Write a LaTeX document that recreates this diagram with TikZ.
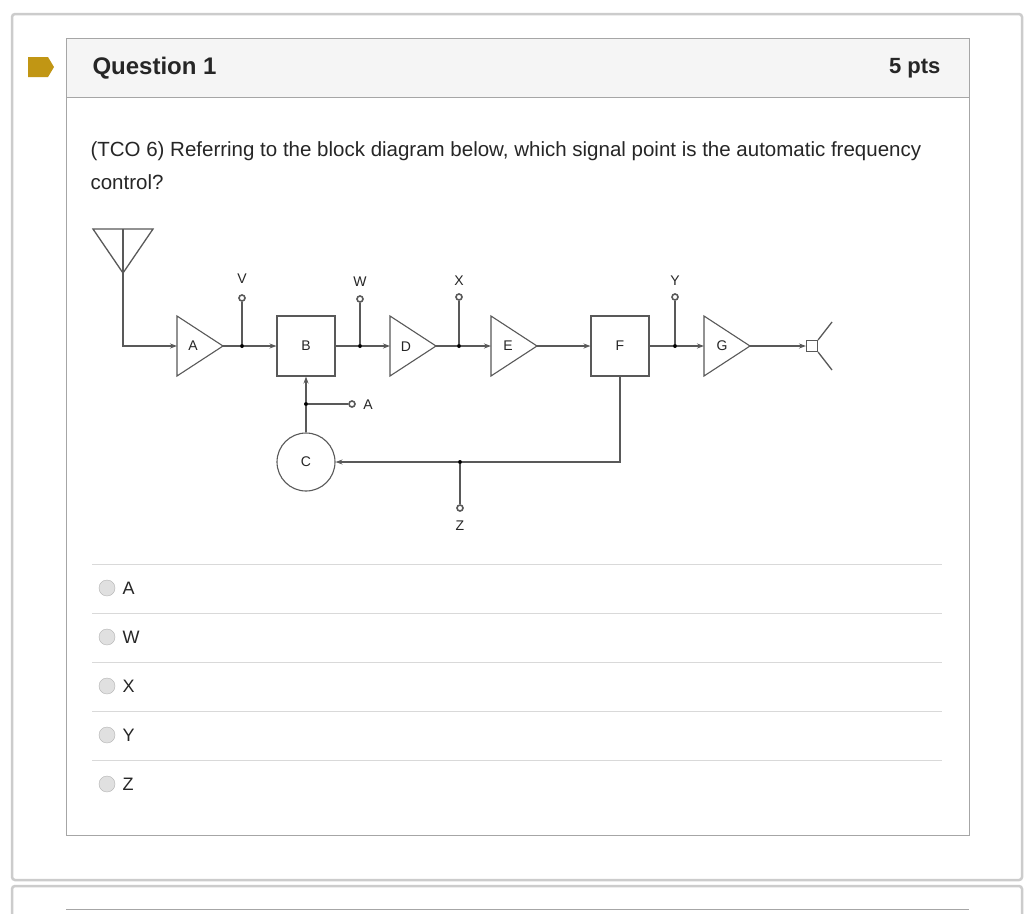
\documentclass[tikz,border=0pt]{standalone}
\usepackage{fontspec}
\setmainfont{Liberation Sans}
\usetikzlibrary{arrows.meta}
\begin{document}
\begin{tikzpicture}[x=1pt,y=-1pt,
 wire/.style={draw=black!65,line width=1.3pt},
 arr/.style={wire,-{Stealth[length=7pt,width=5pt]}},
 amp/.style={draw=black!65,line width=1.1pt,fill=white},
 lbl/.style={font=\fontsize{14}{14}\selectfont,text=black!85},
 tp/.style={circle,draw=black!65,line width=1.6pt,inner sep=0pt,minimum size=6pt},
 jd/.style={circle,fill=black,inner sep=0pt,minimum size=4pt},
 radio/.style={circle,draw=black!30,fill=black!12,inner sep=0pt,minimum size=16pt},
 opt/.style={anchor=west,font=\fontsize{18}{18}\selectfont,text=black!85},
 sep/.style={draw=black!15,line width=0.8pt}]
\useasboundingbox (0,0) rectangle (1024,913);
\fill[white] (0,0) rectangle (1024,913);
% cards
\draw[black!20,line width=2.5pt,rounded corners=3pt] (12,14) rectangle (1022,880);
\draw[black!20,line width=2.5pt,rounded corners=3pt] (12,930) -- (12,886) -- (1022,886) -- (1022,930);
\draw[black!35,line width=1pt] (66,909) -- (969,909);
% inner box
\fill[black!4] (66,38) rectangle (969,97);
\draw[black!35,line width=1pt] (66,97) -- (969,97);
\draw[black!35,line width=1pt] (66,38) rectangle (969,835);
\fill[fill={rgb,255:red,193;green,150;blue,20}] (28,57) -- (48,57) -- (54,67) -- (48,77) -- (28,77) -- cycle;
\node[anchor=west,font=\bfseries\fontsize{24}{24}\selectfont,text=black!85] (q) at (89,68) {Question 1};
\node[anchor=east,font=\bfseries\fontsize{22}{22}\selectfont,text=black!85] (pts) at (944,68) {5 pts};
\node[anchor=west,font=\fontsize{20.5}{20.5}\selectfont,text=black!85] (t1) at (87,151) {(TCO 6) Referring to the block diagram below, which signal point is the automatic frequency};
\node[anchor=west,font=\fontsize{20.5}{20.5}\selectfont,text=black!85] (t2) at (87,182) {control?};
% antenna
\draw[wire] (93,229) -- (153,229) -- (123,273) -- cycle;
\coordinate (ant) at (123,229);
\coordinate (antc) at (123,346);
% amplifiers
\draw[amp] (177,316) -- (223,346) -- (177,376) -- cycle; \node[lbl] (A) at (193,346) {A};
\draw[amp] (390,316) -- (436,346) -- (390,376) -- cycle; \node[lbl] (D) at (406,347) {D};
\draw[amp] (491,316) -- (537,346) -- (491,376) -- cycle; \node[lbl] (E) at (508,346) {E};
\draw[amp] (704,316) -- (750,346) -- (704,376) -- cycle; \node[lbl] (G) at (722,346) {G};
\coordinate (Ain) at (177,346); \coordinate (Aout) at (223,346);
\coordinate (Din) at (390,346); \coordinate (Dout) at (436,346);
\coordinate (Ein) at (491,346); \coordinate (Eout) at (537,346);
\coordinate (Gin) at (704,346); \coordinate (Gout) at (750,346);
\node[draw=black!65,line width=1.1pt,minimum width=58pt,minimum height=60pt,lbl] (B) at (306,346) {B};
\node[draw=black!65,line width=1.1pt,minimum width=58pt,minimum height=60pt,lbl] (F) at (620,346) {F};
\node[circle,draw=black!65,line width=1.1pt,minimum size=58pt,lbl] (C) at (306,462) {C};
% junctions and test points
\node[jd] (jV) at (242,346) {}; \node[tp] (pV) at (242,298) {}; \node[lbl] (lV) at (242,279) {V};
\node[jd] (jW) at (360,346) {}; \node[tp] (pW) at (360,299) {}; \node[lbl] (lW) at (360,282) {W};
\node[jd] (jX) at (459,346) {}; \node[tp] (pX) at (459,297) {}; \node[lbl] (lX) at (459,281) {X};
\node[jd] (jY) at (675,346) {}; \node[tp] (pY) at (675,297) {}; \node[lbl] (lY) at (675,281) {Y};
\node[jd] (jA) at (306,404) {}; \node[tp] (pA) at (352,404) {}; \node[lbl] (lA) at (368,405) {A};
\node[jd] (jZ) at (460,462) {}; \node[tp] (pZ) at (460,508) {}; \node[lbl] (lZ) at (460,526) {Z};
\node[draw=black!65,line width=1.1pt,minimum size=11pt,inner sep=0pt] (spk) at (812,346) {};
\draw[wire] (spk.north east) -- (832,322);
\draw[wire] (spk.south east) -- (832,370);
% wires
\draw[arr] (ant) -- (antc) -- (Ain);
\draw[wire] (Aout) -- (jV); \draw[arr] (jV) -- (B.west); \draw[wire] (jV) -- (pV);
\draw[wire] (B.east) -- (jW); \draw[arr] (jW) -- (Din); \draw[wire] (jW) -- (pW);
\draw[wire] (Dout) -- (jX); \draw[arr] (jX) -- (Ein); \draw[wire] (jX) -- (pX);
\draw[arr] (Eout) -- (F.west);
\draw[wire] (F.east) -- (jY); \draw[arr] (jY) -- (Gin); \draw[wire] (jY) -- (pY);
\draw[arr] (Gout) -- (spk.west);
\draw[wire] (C.north) -- (jA); \draw[arr] (jA) -- (B.south); \draw[wire] (jA) -- (pA);
\draw[wire] (F.south) |- (jZ); \draw[arr] (jZ) -- (C.east); \draw[wire] (jZ) -- (pZ);
% options
\foreach \y in {564,613,662,711,760} \draw[sep] (92,\y) -- (942,\y);
\node[radio] (r1) at (107,588) {}; \node[opt] (o1) at (119,588) {A};
\node[radio] (r2) at (107,637) {}; \node[opt] (o2) at (119,637) {W};
\node[radio] (r3) at (107,686) {}; \node[opt] (o3) at (119,686) {X};
\node[radio] (r4) at (107,735) {}; \node[opt] (o4) at (119,735) {Y};
\node[radio] (r5) at (107,784) {}; \node[opt] (o5) at (119,784) {Z};
\end{tikzpicture}
\end{document}
